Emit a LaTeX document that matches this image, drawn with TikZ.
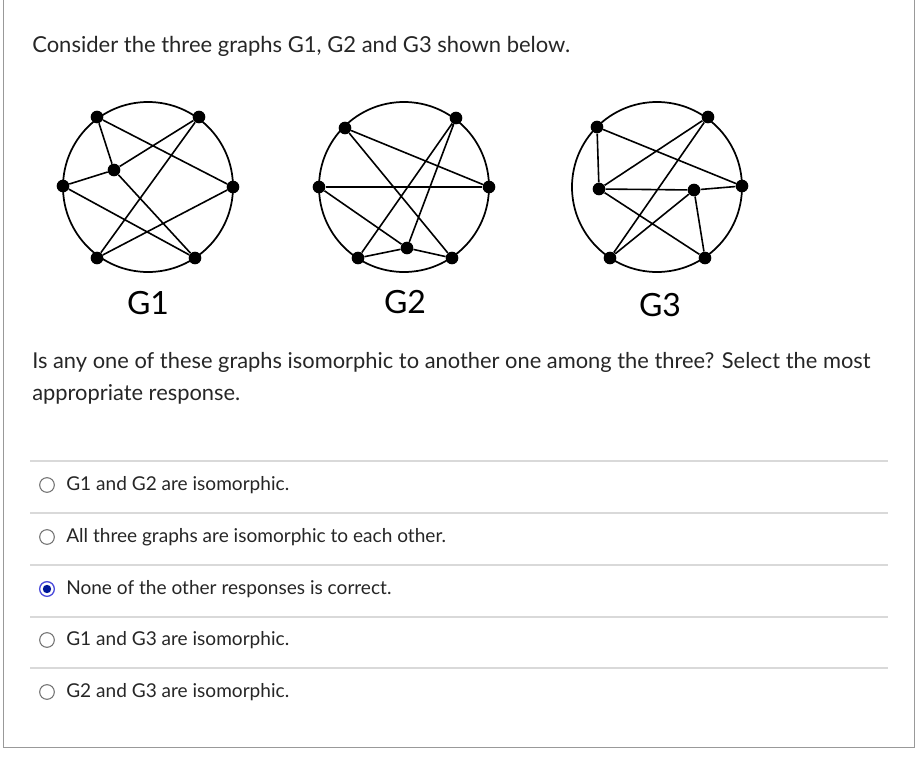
\documentclass[tikz,border=0pt]{standalone}
\usepackage{fontspec}
\setmainfont{Lato}
\begin{document}
\begin{tikzpicture}[x=0.75pt,y=-0.75pt,
  v/.style={circle,fill=black,inner sep=0pt,minimum size=9.5pt},
  e/.style={line width=1.2pt},
  rim/.style={line width=1.3pt},
  txt/.style={anchor=base west,inner sep=0pt,text=black!85},
  opt/.style={anchor=base west,inner sep=0pt,font=\fontsize{14.3pt}{17pt}\selectfont,text=black!85},
  glab/.style={font=\fontsize{24pt}{26pt}\selectfont,anchor=base,inner sep=0pt},
  radio/.style={circle,draw=black!55,line width=0.8pt,inner sep=0pt,minimum size=11pt},
  sep/.style={draw=black!15,line width=0.8pt}]
\useasboundingbox (0,0) rectangle (918,760);
\draw[black!40,line width=0.8pt] (3.5,-2) -- (3.5,747.5) -- (914.5,747.5) -- (914.5,-2);
\node[txt,font=\fontsize{16.5pt}{19pt}\selectfont] (h) at (32,52) {Consider the three graphs G1, G2 and G3 shown below.};
% G1
\draw[rim] (148,187) circle (85);
\node[v] (a1) at (97,117) {}; \node[v] (b1) at (199,117) {}; \node[v] (c1) at (114,170) {};
\node[v] (d1) at (63,186) {}; \node[v] (e1) at (233,187) {}; \node[v] (f1) at (97,258) {};
\node[v] (g1) at (195,258) {};
\draw[e] (a1)--(c1) (a1)--(e1) (b1)--(c1) (b1)--(f1) (c1)--(g1) (d1)--(c1) (d1)--(g1) (e1)--(f1);
% G2
\draw[rim] (404,187) circle (85);
\node[v] (a2) at (345,128) {}; \node[v] (b2) at (456,118) {}; \node[v] (d2) at (319,187) {};
\node[v] (e2) at (489,187) {}; \node[v] (f2) at (358,258) {}; \node[v] (m2) at (407,248) {};
\node[v] (g2) at (452,258) {};
\draw[e] (a2)--(e2) (a2)--(g2) (b2)--(f2) (b2)--(m2) (d2)--(m2) (f2)--(m2) (m2)--(g2);
\draw[line width=2pt] (d2)--(e2);
% G3
\draw[rim] (657,187) circle (85);
\node[v] (a3) at (597,127) {}; \node[v] (b3) at (708,117) {}; \node[v] (c3) at (599,189) {};
\node[v] (m3) at (694,190) {}; \node[v] (e3) at (742,186) {}; \node[v] (f3) at (610,258) {};
\node[v] (g3) at (705,258) {};
\draw[e] (a3)--(c3) (a3)--(e3) (b3)--(c3) (b3)--(f3) (c3)--(m3) (c3)--(g3) (m3)--(e3) (m3)--(g3) (m3)--(f3);
\node[glab] (l1) at (148,314) {G1};
\node[glab] (l2) at (405,313) {G2};
\node[glab] (l3) at (660,316) {G3};
\node[txt,font=\fontsize{16.4pt}{19pt}\selectfont] (q1) at (32,368) {Is any one of these graphs isomorphic to another one among the three? Select the most};
\node[txt,font=\fontsize{16.4pt}{19pt}\selectfont] (q2) at (32,400) {appropriate response.};
\foreach \y in {461,513,565,617,668} \draw[sep] (30,\y) -- (888,\y);
\node[radio] (r1) at (47,485) {}; \node[opt] (o1) at (66,490) {G1 and G2 are isomorphic.};
\node[radio] (r2) at (47,537) {}; \node[opt] (o2) at (66,542) {All three graphs are isomorphic to each other.};
\node[radio,draw=blue!80!black!70,line width=1pt] (r3) at (47,589) {};
\fill[blue!85!cyan!60!black] (r3) circle (4.2);
\node[opt] (o3) at (66,594) {None of the other responses is correct.};
\node[radio] (r4) at (47,640) {}; \node[opt] (o4) at (66,645) {G1 and G3 are isomorphic.};
\node[radio] (r5) at (47,692) {}; \node[opt] (o5) at (66,697) {G2 and G3 are isomorphic.};
\end{tikzpicture}
\end{document}
